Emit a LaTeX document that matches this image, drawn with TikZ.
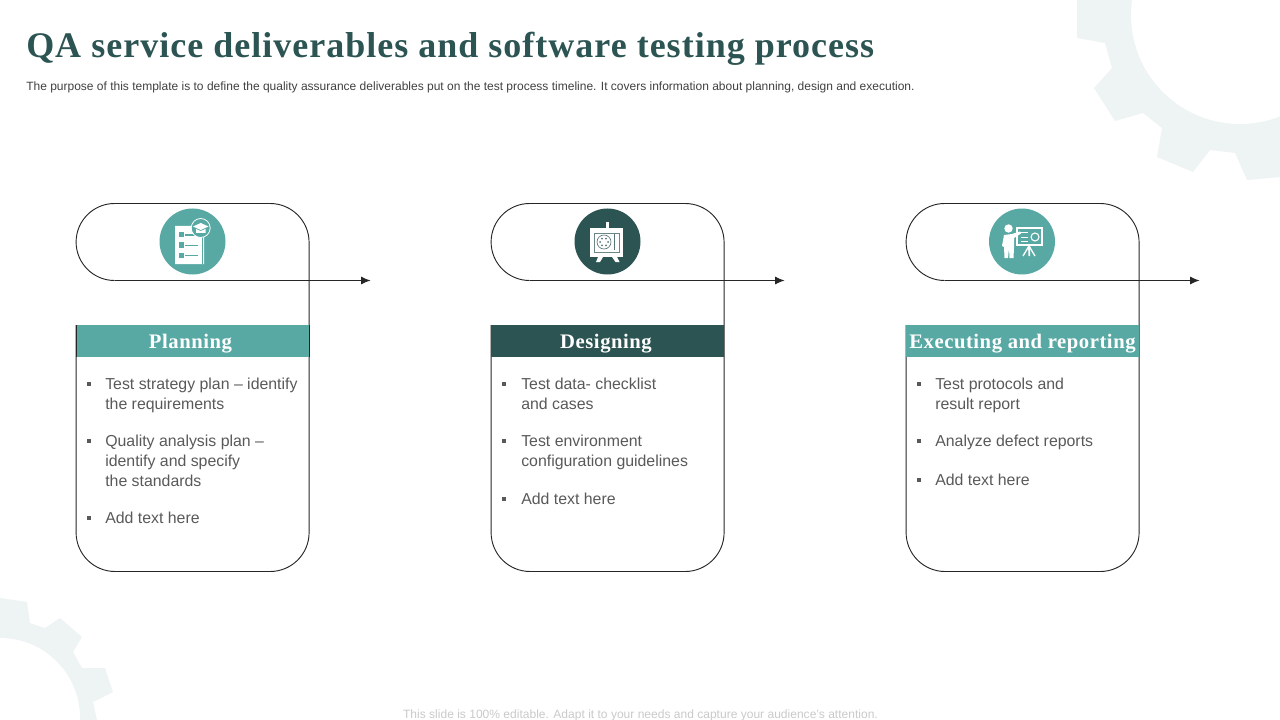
\documentclass[tikz,border=0pt]{standalone}
\usepackage{fontspec}
\setmainfont{Liberation Sans}
\newfontfamily\titlefont[LetterSpace=2.8]{Liberation Serif}
\newfontfamily\headfont[LetterSpace=2.6]{Liberation Serif}
\usetikzlibrary{arrows.meta}
\definecolor{teal}{HTML}{58A9A4}
\definecolor{deep}{HTML}{2B5452}
\definecolor{gearc}{HTML}{EEF3F4}
\definecolor{bodyc}{HTML}{595959}
\definecolor{subc}{HTML}{404040}
\definecolor{footc}{HTML}{C9C9C9}
\tikzset{
  x=0.75pt,y=-0.75pt,
  outline/.style={draw=black!85,line width=0.7pt},
  flow/.style={draw=black!85,line width=0.75pt,-{Latex[length=7pt,width=6pt]}},
  bodytext/.style={inner sep=0pt,anchor=north west,align=left,text=bodyc,font=\fontsize{11.9}{14.7}\selectfont},
  bullet/.style={fill=bodyc,minimum size=3pt,inner sep=0pt,draw=none,rectangle},
  headtext/.style={text=white,inner sep=0pt,font=\headfont\bfseries\fontsize{15.5}{18}\selectfont},
  ink/.style={fill=white,draw=none},
}
\newcommand{\panel}[1]{%
  \draw[outline] (#1+38.5,280.5) arc[start angle=270,end angle=90,radius=38.5*0.75pt] -- (#1+194,203.5)
    arc[start angle=90,end angle=0,radius=39*0.75pt] -- (#1+233,532.5)
    arc[start angle=0,end angle=-90,radius=39*0.75pt] -- (#1+39,571.5)
    arc[start angle=-90,end angle=-180,radius=39*0.75pt] -- (#1,325);
}
\begin{document}
\begin{tikzpicture}
\useasboundingbox (0,0) rectangle (1280,720);
% gears
\fill[gearc] (1077,0) -- (1077,38) -- (1105,43) -- (1112,68) -- (1094,88) -- (1115,121) -- (1143,113) -- (1162,128) -- (1157,157) -- (1193,172) -- (1210,150) -- (1235,153) -- (1247,180) -- (1280,177) -- (1280,0) -- cycle;
\fill[white] (1240,15) circle[radius=109*0.75pt];
\fill[gearc] (0,598) -- (27,602) -- (30,623) -- (45,628) -- (60,618) -- (82,637) -- (73,652) -- (82,668) -- (105,668) -- (113,692) -- (93,702) -- (97,720) -- (0,720) -- cycle;
\begin{scope}
\clip (0,590) rectangle (130,720);
\fill[white] (0,718) circle[radius=80*0.75pt];
\end{scope}
% title
\node[anchor=base west,inner sep=0pt,text=deep,font=\titlefont\bfseries\fontsize{27}{30}\selectfont] (title) at (26,58) {QA service deliverables and software testing process};
\node[anchor=base west,inner sep=0pt,text=subc,font=\fontsize{9}{11}\selectfont] (sub) at (26,91) {The purpose of this template is to define the quality assurance deliverables put on the test process timeline. It covers information about planning, design and execution.};
\node[anchor=base,inner sep=0pt,text=footc,font=\fontsize{9.03}{11}\selectfont] (foot) at (640.5,718) {This slide is 100\% editable. Adapt it to your needs and capture your audience’s attention.};
% panels
\panel{76.1}\panel{491.1}\panel{906.1}
% arrows
\coordinate (a1s) at (115,280.5); \coordinate (a1e) at (370.5,280.5);
\coordinate (a2s) at (530,280.5); \coordinate (a2e) at (784.5,280.5);
\coordinate (a3s) at (945,280.5); \coordinate (a3e) at (1199.5,280.5);
\draw[flow] (a1s) -- (a1e);
\draw[flow] (a2s) -- (a2e);
\draw[flow] (a3s) -- (a3e);
% headers
\fill[teal] (76,325) rectangle (309.2,357);
\fill[deep] (491,325) rectangle (724.2,357);
\fill[teal] (906,325) rectangle (1139.2,357);
\draw[outline] (76.1,325) -- (76.1,357) (309.1,325) -- (309.1,357);
\node[headtext] (h1) at (190.5,343.5) {Planning};
\node[headtext] (h2) at (606,343.5) {Designing};
\node[headtext] (h3) at (1022.5,343.5) {Executing and reporting};
% bullets
\foreach \bx/\by in {89/384,89/441,89/518,504/384,504/441,504/499,919/384,919/441,919/480}
  \node[bullet] at (\bx,\by) {};
\node[bodytext] (t11) at (105,376) {\strut Test strategy plan – identify\\the requirements};
\node[bodytext] (t12) at (105,433) {\strut Quality analysis plan –\\identify and specify\\the standards};
\node[bodytext] (t13) at (105,510) {\strut Add text here};
\node[bodytext] (t21) at (521,376) {\strut Test data- checklist\\and cases};
\node[bodytext] (t22) at (521,433) {\strut Test environment\\configuration guidelines};
\node[bodytext] (t23) at (521,491) {\strut Add text here};
\node[bodytext] (t31) at (935,376) {\strut Test protocols and\\result report};
\node[bodytext] (t32) at (935,433) {\strut Analyze defect reports};
\node[bodytext] (t33) at (935,472) {\strut Add text here};
% icon 1
\fill[teal] (192.5,241.5) circle[radius=33*0.75pt];
\fill[ink] (175,226) -- (198,226) -- (204,232) -- (204,264) -- (175,264) -- cycle;
\fill[teal] (202,232) rectangle (203,264);
\foreach \yy in {235,245,255}{
  \fill[teal] (178.5,\yy-2.5) rectangle (183.5,\yy+2.5);
  \fill[teal] (185,\yy-0.5) rectangle (198,\yy+0.7);
}
\draw[white,line width=0.6pt,fill=teal] (200.7,228) circle[radius=9.5*0.75pt];
\fill[ink] (193,226.5) -- (200.7,223) -- (208.5,226.5) -- (200.7,230) -- cycle;
\fill[ink] (196,229) -- (200.7,231) -- (205.5,229) -- (205.5,233) -- (196,233) -- cycle;
% icon 2
\fill[deep] (607.5,241.5) circle[radius=33*0.75pt];
\fill[ink] (605.5,222) rectangle (608.5,228);
\fill[ink] (590,228) rectangle (623,257);
\fill[ink] (598,257) -- (603,257) -- (600,262) -- (596,262) -- cycle;
\fill[ink] (612,257) -- (617,257) -- (619.5,262) -- (615.5,262) -- cycle;
\draw[deep!70,line width=0.4pt] (594,233) rectangle (619,252);
\draw[deep!80,line width=0.5pt] (604,242) circle[radius=7*0.75pt];
\foreach \aa in {0,60,...,300}
  \fill[deep!80] (604,242) ++(\aa:4*0.75pt) circle[radius=1*0.75pt];
\draw[deep!80,line width=0.6pt] (614.5,234) -- (614.5,250);
% icon 3
\fill[teal] (1022,241.5) circle[radius=33*0.75pt];
\fill[ink] (1008.5,228.5) circle[radius=4.2*0.75pt];
\fill[ink] (1004,235) -- (1012,234) -- (1020,231.5) -- (1021,233.5) -- (1014,238) -- (1014,247) -- (1013.5,258) -- (1009.5,258) -- (1009,248) -- (1008,258) -- (1004.5,258) -- (1004,247) -- (1002,246) -- cycle;
\draw[white,line width=0.8pt] (1017,228) rectangle (1042,245);
\draw[white,line width=0.7pt] (1020,232) -- (1028,232) (1021,237) -- (1028,237) (1021,241) -- (1028,241);
\draw[white,line width=0.8pt] (1035,237) circle[radius=4*0.75pt];
\fill[ink] (1028,245) -- (1030,245) -- (1030,256) -- (1028.5,256) -- cycle;
\draw[white,line width=1pt] (1029,246) -- (1023,256) (1029,246) -- (1035,256);
\end{tikzpicture}
\end{document}
